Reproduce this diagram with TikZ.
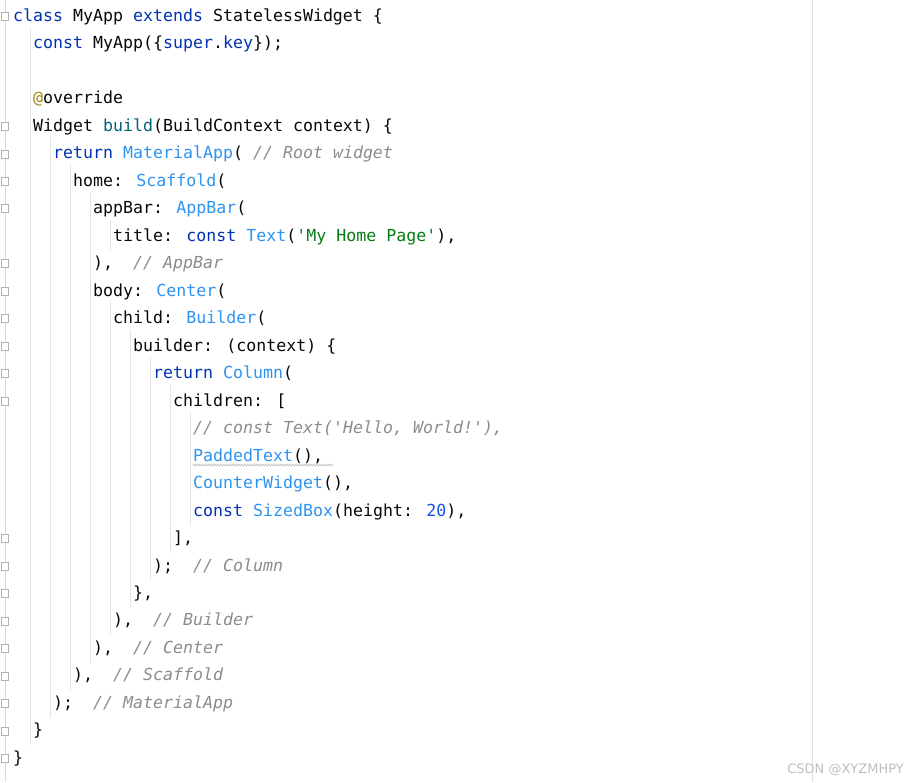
\documentclass[tikz,border=0pt]{standalone}
\usepackage{fontspec}
\newfontfamily\codefont{DejaVu Sans Mono}
\setsansfont{DejaVu Sans}
\usetikzlibrary{decorations.pathmorphing}
\definecolor{kwc}{HTML}{0033B3}
\definecolor{clsc}{HTML}{2F93F0}
\definecolor{strc}{HTML}{067D17}
\definecolor{cmc}{HTML}{8C8C8C}
\definecolor{numc}{HTML}{1750EB}
\definecolor{annc}{HTML}{9E880D}
\definecolor{fnc}{HTML}{00627A}
\definecolor{guidec}{HTML}{E4E4E4}
\definecolor{txtc}{HTML}{080808}
\newcommand\kw[1]{\textcolor{kwc}{#1}}
\newcommand\cls[1]{\textcolor{clsc}{#1}}
\newcommand\strg[1]{\textcolor{strc}{#1}}
\newcommand\cmt[1]{\textcolor{cmc}{\itshape #1}}
\newcommand\codeline[3]{\node[code] (l#1) at ({13+10*#2},{21+27.48*(#1-1)}) {#3};}
\newcommand\fold[1]{\node[foldmk] (f#1) at (5,{16+27.48*(#1-1)}) {};}
\begin{document}
\begin{tikzpicture}[x=1pt,y=-1pt,
  code/.style={anchor=base west,inner sep=0pt,font=\codefont\fontsize{16.6}{20}\selectfont,text=txtc},
  foldmk/.style={draw=black!30,fill=white,line width=0.6pt,minimum width=7pt,minimum height=8pt,inner sep=0pt},
  guide/.style={draw=guidec,line width=0.8pt}]
\fill[white] (0,0) rectangle (908,782);
\draw[black!15,line width=0.8pt] (5,0) -- (5,782);
\draw[black!12,line width=0.8pt] (812,0) -- (812,782);
% indent guides
\draw[guide] (30,28) -- (30,745);
\draw[guide] (50,136) -- (50,718);
\draw[guide] (70,164) -- (70,690);
\draw[guide] (90,192) -- (90,663);
\draw[guide] (110,220) -- (110,250);
\draw[guide] (110,302) -- (110,635);
\draw[guide] (130,330) -- (130,608);
\draw[guide] (150,357) -- (150,580);
\draw[guide] (170,385) -- (170,553);
\draw[guide] (190,412) -- (190,525);
\foreach \n in {1,5,6,7,8,10,11,12,13,14,15,20,21,22,23,24,25,26,27,28}{\fold{\n}}
\codeline{1}{0}{\kw{class} MyApp \kw{extends} StatelessWidget \{}
\codeline{2}{2}{\kw{const} MyApp(\{\kw{super}.\kw{key}\});}
\codeline{4}{2}{\textcolor{annc}{@}override}
\codeline{5}{2}{Widget \textcolor{fnc}{build}(BuildContext context) \{}
\codeline{6}{4}{\kw{return} \cls{MaterialApp}( \cmt{// Root widget}}
\codeline{7}{6}{home: \cls{Scaffold}(}
\codeline{8}{8}{appBar: \cls{AppBar}(}
\codeline{9}{10}{title: \kw{const} \cls{Text}(\strg{'My Home Page'}),}
\codeline{10}{8}{),\ \ \cmt{// AppBar}}
\codeline{11}{8}{body: \cls{Center}(}
\codeline{12}{10}{child: \cls{Builder}(}
\codeline{13}{12}{builder: (context) \{}
\codeline{14}{14}{\kw{return} \cls{Column}(}
\codeline{15}{16}{children: [}
\codeline{16}{18}{\cmt{// const Text('Hello, World!'),}}
\codeline{17}{18}{\cls{PaddedText}(),}
\codeline{18}{18}{\cls{CounterWidget}(),}
\codeline{19}{18}{\kw{const} \cls{SizedBox}(height: \textcolor{numc}{20}),}
\codeline{20}{16}{],}
\codeline{21}{14}{);\ \ \cmt{// Column}}
\codeline{22}{12}{\},}
\codeline{23}{10}{),\ \ \cmt{// Builder}}
\codeline{24}{8}{),\ \ \cmt{// Center}}
\codeline{25}{6}{),\ \ \cmt{// Scaffold}}
\codeline{26}{4}{);\ \ \cmt{// MaterialApp}}
\codeline{27}{2}{\}}
\codeline{28}{0}{\}}
\draw[black!30,line width=0.5pt,decorate,decoration={zigzag,amplitude=1pt,segment length=3pt}]
  ([yshift=-4pt]l17.base west) -- ([yshift=-4pt,xshift=140pt]l17.base west);
\node[anchor=base east,inner sep=0pt,font=\sffamily\fontsize{13}{15}\selectfont,text=black!25] (wm) at (904,773) {CSDN @XYZMHPY};
\end{tikzpicture}
\end{document}
